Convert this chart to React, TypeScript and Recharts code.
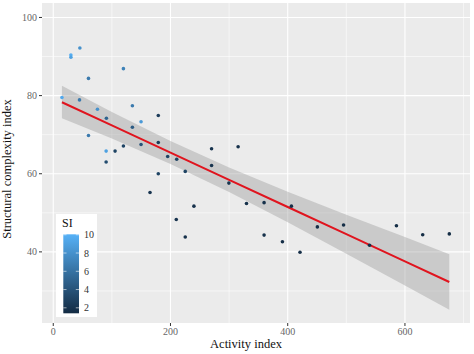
import React from 'react';
import {
  ComposedChart,
  Scatter,
  Line,
  Area,
  XAxis,
  YAxis,
  CartesianGrid,
} from 'recharts';

const activity = [
  14.8, 30.1, 30.1, 45.4, 60.1, 44.8, 75.4, 90.7, 60.1, 119.7, 135, 149.8, 135, 179.2, 90.2,
  105.5, 119.7, 90.2, 149.8, 179.2, 195.2, 210.6, 225.2, 179.2, 270.1, 315.4, 270.1, 165.1,
  299.6, 240, 209.9, 225.2, 329.7, 359.7, 406.3, 450.6, 359.7, 391, 421, 495.3, 539.6, 585.5,
  630.3, 675.7,
];
const complexity = [
  79.5, 90.4, 89.8, 92.2, 84.4, 78.9, 76.5, 74.2, 69.8, 86.9, 77.4, 73.3, 71.9, 74.9, 65.8,
  65.8, 67.1, 63, 67.5, 68, 64.4, 63.7, 60.6, 60, 66.4, 66.9, 62.1, 55.2, 57.6, 51.7, 48.3,
  43.8, 52.4, 52.6, 51.7, 46.4, 44.3, 42.6, 39.9, 46.9, 41.7, 46.7, 44.4, 44.6,
];
const si = [
  9.5, 9.8, 9, 8, 6.5, 6.5, 8, 5, 6.5, 7, 6.5, 8.5, 4.5, 2.5, 9, 3, 3, 3.5, 4, 2.5, 3, 3, 3,
  3, 2, 1.8, 2, 2, 2, 1.8, 2, 1.8, 1.8, 1.8, 1.6, 1.6, 1.8, 1.6, 1.6, 1.6, 1.5, 1.5, 1.5, 1.5,
];

// fitted line and 95% band
const fitX = [14.8, 100, 200, 300, 400, 500, 600, 675.7];
const fitY = [78.3, 72.37, 65.41, 58.45, 51.49, 44.53, 37.57, 32.3];
const bandLow = [74.2, 69.0, 62.5, 55.3, 47.6, 39.5, 31.4, 25.2];
const bandHigh = [82.5, 75.8, 68.4, 61.6, 55.4, 49.5, 43.8, 39.4];

const xTicks = [0, 200, 400, 600];
const yTicks = [40, 60, 80, 100];
const xMinor = [100, 300, 500, 700];
const yMinor = [30, 50, 70, 90];
const legendTicks = [10, 8, 6, 4, 2];

const SI_MIN = 1.4;
const SI_MAX = 10.05;
const LOW = [19, 43, 67];
const HIGH = [86, 177, 247];

function siColor(v: number) {
  const t = Math.max(0, Math.min(1, (v - SI_MIN) / (SI_MAX - SI_MIN)));
  const c = LOW.map((l, i) => Math.round(l + (HIGH[i] - l) * t));
  return `rgb(${c[0]},${c[1]},${c[2]})`;
}

const points = activity.map((x, i) => ({ x, y: complexity[i], si: si[i] }));
const band = fitX.map((x, i) => ({ x, fit: fitY[i], band: [bandLow[i], bandHigh[i]] }));

const W = 474;
const H = 354;
const serif = '"Liberation Serif", "DejaVu Serif", serif';

const Dot = (props: any) => {
  const { cx, cy, payload } = props;
  if (cx == null || cy == null) return null;
  return <circle cx={cx} cy={cy} r={1.8} fill={siColor(payload.si)} />;
};

export default function App() {
  const barTop = 234.3;
  const barBottom = 313.3;
  const scale = (v: number) => barBottom - ((v - SI_MIN) / (SI_MAX - SI_MIN)) * (barBottom - barTop);

  return (
    <div style={{ position: 'absolute', left: 0, top: 0, width: W, height: H, background: '#fff', fontFamily: serif }}>
      <ComposedChart
        width={W}
        height={H}
        data={band}
        margin={{ top: 3, right: 4, left: 0, bottom: 0 }}
      >
        <CartesianGrid
          fill="#EBEBEB"
          stroke="#FFFFFF"
          strokeWidth={0.55}
          verticalValues={xMinor}
          horizontalValues={yMinor}
        />
        <CartesianGrid
          stroke="#FFFFFF"
          strokeWidth={1.1}
          verticalValues={xTicks}
          horizontalValues={yTicks}
        />
        <XAxis
          dataKey="x"
          type="number"
          domain={[-19.2, 711]}
          ticks={xTicks}
          allowDataOverflow
          height={31}
          axisLine={false}
          tickSize={3}
          tickLine={{ stroke: '#333' }}
          tick={{ fill: '#666', fontSize: 10, fontFamily: serif }}
          tickMargin={2}
        />
        <YAxis
          dataKey="y"
          type="number"
          domain={[21.8, 103.7]}
          ticks={yTicks}
          allowDataOverflow
          width={42}
          axisLine={false}
          tickSize={3}
          tickLine={{ stroke: '#333' }}
          tick={{ fill: '#666', fontSize: 10, fontFamily: serif }}
          tickMargin={2}
        />
        <Scatter data={points} shape={<Dot />} isAnimationActive={false} />
        <Area
          dataKey="band"
          type="linear"
          stroke="none"
          fill="#999999"
          fillOpacity={0.4}
          isAnimationActive={false}
        />
        <Line
          dataKey="fit"
          type="linear"
          stroke="#E0141E"
          strokeWidth={2}
          dot={false}
          activeDot={false}
          isAnimationActive={false}
        />
      </ComposedChart>

      <svg width={W} height={H} style={{ position: 'absolute', left: 0, top: 0, pointerEvents: 'none' }}>
        <defs>
          <linearGradient id="siGrad" x1="0" y1="1" x2="0" y2="0">
            <stop offset="0%" stopColor={siColor(SI_MIN)} />
            <stop offset="100%" stopColor={siColor(SI_MAX)} />
          </linearGradient>
        </defs>
        <rect x={56} y={214} width={41} height={103} fill="#FFFFFF" />
        <text x={62} y={227} fontSize={12} fill="#111" fontFamily={serif}>SI</text>
        <rect x={63.3} y={barTop} width={15.7} height={barBottom - barTop} fill="url(#siGrad)" />
        {legendTicks.map((v) => (
          <g key={v}>
            <line x1={63.3} x2={66.5} y1={scale(v)} y2={scale(v)} stroke="#fff" strokeWidth={0.6} />
            <line x1={75.8} x2={79} y1={scale(v)} y2={scale(v)} stroke="#fff" strokeWidth={0.6} />
            <text x={84} y={scale(v) + 3.5} fontSize={10} fill="#333" fontFamily={serif}>{v}</text>
          </g>
        ))}
        <text x={246} y={348} textAnchor="middle" fontSize={12.5} fill="#111" fontFamily={serif}>
          Activity index
        </text>
        <text
          x={11}
          y={169}
          transform="rotate(-90 11 169)"
          textAnchor="middle"
          fontSize={12.5}
          fill="#111"
          fontFamily={serif}
        >
          Structural complexity index
        </text>
      </svg>
    </div>
  );
}
